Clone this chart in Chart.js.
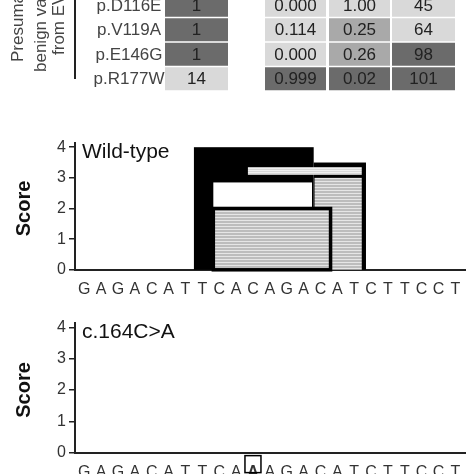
<!DOCTYPE html><html><head><meta charset="utf-8">
<script src="https://cdn.jsdelivr.net/npm/chart.js@4"></script>
<style>body{margin:0;background:#fff;width:474px;height:474px;overflow:hidden;position:relative;font-family:Arial,"Liberation Sans",sans-serif}
canvas{position:absolute}</style></head><body>
<canvas id="t" style="left:0;top:-7px" width="474" height="98"></canvas>
<canvas id="a" style="left:0;top:130px" width="474" height="170"></canvas>
<canvas id="b" style="left:0;top:310px" width="474" height="164"></canvas>
<script>
// ---- table data ----
const variants = ["p.D116E","p.V119A","p.E146G","p.R177W"];
const colCount = ["1","1","1","14"];
const colScoreA = ["0.000","0.114","0.000","0.999"];
const colScoreB = ["1.00","0.25","0.26","0.02"];
const colScoreC = ["45","64","98","101"];
const shadeCount = ["#6b6b6b","#6b6b6b","#6b6b6b","#d9d9d9"];
const shadeA = ["#d9d9d9","#d9d9d9","#d9d9d9","#6b6b6b"];
const shadeB = ["#d9d9d9","#a9a9a9","#a9a9a9","#6b6b6b"];
const shadeC = ["#d9d9d9","#d9d9d9","#6b6b6b","#6b6b6b"];
const colSpans = [[165,228],[265,326],[329,390],[392,455]];
// ---- score plot data ----
const wtSeq = "GAGACATTCACAGACATCTTCCT".split("");
const mutSeq = "GAGACATTCAAAGACATCTTCCT".split("");
const mutIndex = 10;
const scoreTicks = [0,1,2,3,4];
// boxes: [x0,x1,y0,y1,style]
const wtBoxes = [
 [6.5,13.6,0,4,"black"],[13.6,16.7,0,3.5,"black"],
 [9.7,16.45,3.1,3.35,"light"],
 [13.65,16.45,0,3.0,"hatch"],
 [7.65,13.5,2.05,2.85,"white"],
 [7.65,14.6,0,2.0,"hatchB"]
];
const mutBoxes = [];

function hatch(ctx){const c=document.createElement('canvas');c.width=4;c.height=3;const x=c.getContext('2d');
x.fillStyle='#bdbdbd';x.fillRect(0,0,4,3);x.fillStyle='#e6e6e6';x.fillRect(0,0,4,1);return ctx.createPattern(c,'repeat');}
function lightp(ctx){const c=document.createElement('canvas');c.width=4;c.height=2;const x=c.getContext('2d');
x.fillStyle='#d8d8d8';x.fillRect(0,0,4,2);x.fillStyle='#efefef';x.fillRect(0,0,4,1);return ctx.createPattern(c,'repeat');}

const cols=[[colCount,shadeCount],[colScoreA,shadeA],[colScoreB,shadeB],[colScoreC,shadeC]];
new Chart(document.getElementById('t'),{type:'bar',
 data:{labels:variants,datasets:cols.map((c,i)=>({data:variants.map(()=>colSpans[i]),backgroundColor:c[1],barPercentage:0.93,categoryPercentage:1,grouped:false}))},
 options:{indexAxis:'y',animation:false,responsive:false,events:[],layout:{padding:0},
  plugins:{legend:{display:false},tooltip:{enabled:false}},
  scales:{x:{type:'linear',min:0,max:474,display:false},y:{display:false}}},
 plugins:[{id:'txt',afterDatasetsDraw(ch){const ctx=ch.ctx,xs=ch.scales.x,ys=ch.scales.y;
  ctx.save();ctx.font='17px Arial';ctx.textBaseline='middle';
  variants.forEach((v,r)=>{const y=ys.getPixelForValue(r);
   ctx.fillStyle='#444';ctx.textAlign='center';ctx.fillText(v,129,y+1);
   cols.forEach((c,i)=>{ctx.fillStyle='#222';ctx.fillText(c[0][r],xs.getPixelForValue((colSpans[i][0]+colSpans[i][1])/2),y+1);});});
  ctx.strokeStyle='#222';ctx.lineWidth=2;ctx.beginPath();ctx.moveTo(75,0);ctx.moveTo(75,0);ctx.lineTo(75,86);ctx.stroke();
  ctx.fillStyle='#444';ctx.textAlign='left';
  [["Presumably",18,69],["benign variants",41,79],["from EVS",59,62]].forEach(([t,x,y])=>{ctx.save();ctx.translate(x,y);ctx.rotate(-Math.PI/2);ctx.fillText(t,0,0);ctx.restore();});
  ctx.restore();}}]});

function scoreChart(id,seq,boxes,title,top0,unitPx,mark){
 const cv=document.getElementById(id);
 return new Chart(cv,{type:'scatter',data:{datasets:[{data:[],pointRadius:0}]},
  options:{animation:false,responsive:false,events:[],layout:{padding:{top:top0,right:9,left:0,bottom:0}},
   plugins:{legend:{display:false},tooltip:{enabled:false}},
   scales:{
    x:{type:'linear',min:-0.55,max:22.57,afterFit:s=>{s.height=cv.height-top0-unitPx*4.15;},
     afterBuildTicks:s=>{s.ticks=seq.map((_,i)=>({value:i}));},
     ticks:{autoSkip:false,maxRotation:0,padding:2,color:'#333',callback:v=>seq[v]||'',
      font:c=>({family:'Arial',size:16,weight:(mark>=0&&c.index===mark)?'bold':'normal'})},
     grid:{display:false},border:{color:'#222',width:2}},
    y:{min:0,max:4.15,afterFit:s=>{s.width=75;},afterBuildTicks:s=>{s.ticks=scoreTicks.map(v=>({value:v}));},
     ticks:{color:'#333',font:{family:'Arial',size:16},padding:3},
     grid:{drawOnChartArea:false,tickLength:6,color:'#222',lineWidth:1.5},border:{color:'#222',width:2}}}},
  plugins:[{id:'boxes',beforeDatasetsDraw(ch){const ctx=ch.ctx,xs=ch.scales.x,ys=ch.scales.y;ctx.save();
    boxes.forEach(([x0,x1,y0,y1,st])=>{const px0=xs.getPixelForValue(x0),px1=xs.getPixelForValue(x1),py0=ys.getPixelForValue(y0),py1=ys.getPixelForValue(y1);
     ctx.fillStyle=st==='black'?'#000':st==='white'?'#fff':st==='light'?lightp(ctx):hatch(ctx);
     ctx.fillRect(px0,py1,px1-px0,py0-py1);
     if(st==='hatchB'){ctx.strokeStyle='#000';ctx.lineWidth=3.5;ctx.strokeRect(px0,py1,px1-px0,py0-py1);}});
    ctx.restore();},
   afterDraw(ch){const ctx=ch.ctx,xs=ch.scales.x,ys=ch.scales.y;ctx.save();
    ctx.fillStyle='#111';ctx.font='21px Arial';ctx.textBaseline='top';ctx.textAlign='left';ctx.fillText(title,xs.left+7,ys.getPixelForValue(4.15)-1);
    ctx.font='bold 20px Arial';ctx.textAlign='center';ctx.textBaseline='middle';ctx.translate(24,ys.getPixelForValue(2));ctx.rotate(-Math.PI/2);ctx.fillText('Score',0,0);ctx.restore();
    if(mark>=0){const px=xs.getPixelForValue(mark);ctx.save();ctx.strokeStyle='#000';ctx.lineWidth=1.5;ctx.strokeRect(px-8,xs.top+3,16,17);ctx.restore();}}}]});
}
scoreChart('a',wtSeq,wtBoxes,'Wild-type',7,32,-1);
scoreChart('b',mutSeq,mutBoxes,'c.164C>A',9,32.2,mutIndex);
</script></body></html>
